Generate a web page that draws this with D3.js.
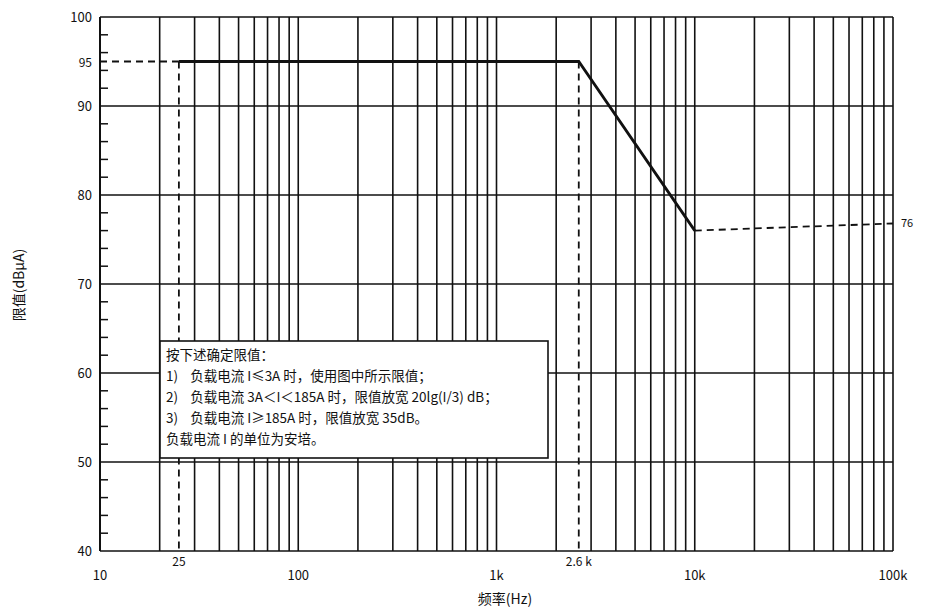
<!DOCTYPE html>
<html><head><meta charset="utf-8">
<script src="https://cdn.jsdelivr.net/npm/d3@7"></script>
<style>body{margin:0;background:#fff} text{white-space:pre}</style></head>
<body><svg id="c" width="948" height="615"></svg>
<script>
const yTicks=[40,50,60,70,80,90,100];
const yMinor=[42,44,46,48,52,54,56,58,62,64,66,68,72,74,76,78,82,84,86,88,92,94,96,98];
const xLabels=[{v:10,t:"10"},{v:100,t:"100"},{v:1000,t:"1k"},{v:10000,t:"10k"},{v:100000,t:"100k"}];
const xSpecial=[{v:25,t:"25"},{v:2600,t:"2.6 k"}];
const limitF=[25,2600,10000];
const limitV=[95,95,76];
const dashF=[10000,100000];
const dashV=[76,76.8];
const noteLines=["按下述确定限值：","1)    负载电流 I≤3A 时，使用图中所示限值；","2)    负载电流 3A＜I＜185A 时，限值放宽 20lg(I/3) dB；","3)    负载电流 I≥185A 时，限值放宽 35dB。","负载电流 I 的单位为安培。"];

const svg=d3.select("#c");
const x=d3.scaleLog().domain([10,100000]).range([100,893]);
const y=d3.scaleLinear().domain([40,100]).range([551,17]);
const font="'Noto Sans CJK SC','DejaVu Serif',serif";
const g=svg.append("g").attr("stroke","#111").attr("fill","none");
const vg=[];for(let d=10;d<100000;d*=10)for(let k=1;k<=9;k++)vg.push(d*k);vg.push(100000);
g.selectAll(".v").data(vg).join("line").attr("x1",d=>x(d)).attr("x2",d=>x(d)).attr("y1",y(40)).attr("y2",y(100)).attr("stroke-width",d=>d===10?2:1.6);
g.selectAll(".h").data(yTicks).join("line").attr("x1",x(10)).attr("x2",x(100000)).attr("y1",d=>y(d)).attr("y2",d=>y(d)).attr("stroke-width",1.6);
g.selectAll(".m").data(yMinor).join("line").attr("x1",x(10)).attr("x2",x(10)+8).attr("y1",d=>y(d)).attr("y2",d=>y(d)).attr("stroke-width",1.5);
const dash="7,5";
g.append("line").attr("x1",x(10)).attr("x2",x(25)).attr("y1",y(95)).attr("y2",y(95)).attr("stroke-width",1.8).attr("stroke-dasharray",dash);
xSpecial.forEach(s=>g.append("line").attr("x1",x(s.v)).attr("x2",x(s.v)).attr("y1",y(95)).attr("y2",y(40)).attr("stroke-width",1.8).attr("stroke-dasharray",dash));
const line=d3.line().x(d=>x(d[0])).y(d=>y(d[1]));
g.append("path").attr("d",line(limitF.map((f,i)=>[f,limitV[i]]))).attr("stroke-width",2.8);
g.append("path").attr("d",line(dashF.map((f,i)=>[f,dashV[i]]))).attr("stroke-width",1.8).attr("stroke-dasharray",dash);
g.append("rect").attr("x",160).attr("y",341).attr("width",388).attr("height",117).attr("fill","#fff").attr("stroke-width",1.6);
const t=svg.append("g").attr("font-family",font).attr("fill","#111");
noteLines.forEach((s,i)=>t.append("text").attr("x",166).attr("y",360+i*21).attr("font-size",13.5).attr("xml:space","preserve").text(s));
t.selectAll(".yl").data(yTicks).join("text").attr("x",92).attr("y",d=>y(d)+5).attr("text-anchor","end").attr("font-size",13).text(d=>d);
t.append("text").attr("x",92).attr("y",y(95)+5).attr("text-anchor","end").attr("font-size",12).text("95");
t.selectAll(".xl").data(xLabels).join("text").attr("x",d=>x(d.v)).attr("y",580).attr("text-anchor","middle").attr("font-size",13).text(d=>d.t);
t.selectAll(".xs").data(xSpecial).join("text").attr("x",d=>x(d.v)).attr("y",566).attr("text-anchor","middle").attr("font-size",12).text(d=>d.t);
t.append("text").attr("x",x(100000)+8).attr("y",y(76.8)+4).attr("font-size",11).text("76");
t.append("text").attr("x",505).attr("y",604).attr("text-anchor","middle").attr("font-size",14).text("频率(Hz)");
t.append("text").attr("transform","translate(24,285) rotate(-90)").attr("text-anchor","middle").attr("font-size",14).text("限值(dBμA)");
</script></body></html>
